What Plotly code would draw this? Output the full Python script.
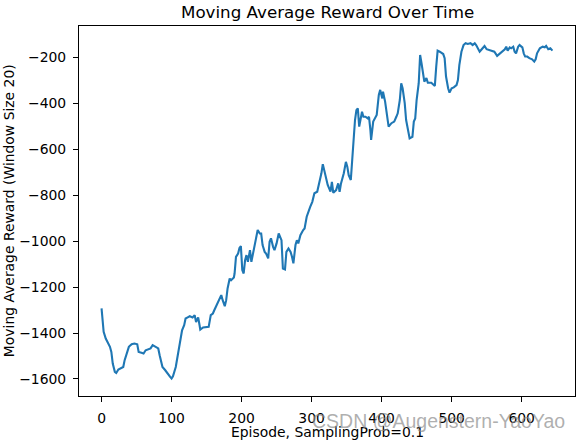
import plotly.graph_objects as go

episodes = [0, 2, 3, 6, 9, 12, 14, 16, 19, 21, 24, 27, 31, 33, 36, 39, 43, 47, 51, 53,
            57, 60, 63, 66, 70, 73, 77, 81, 83, 87, 91, 94, 98, 100, 102, 106, 109, 112, 115, 118,
            120, 123, 126, 130, 133, 135, 138, 140, 141, 145, 150, 153, 156, 159, 161, 164, 168, 171, 173, 176,
            178, 180, 183, 185, 189, 190, 192, 195, 197, 199, 201, 203, 205, 207, 209, 212, 214, 216, 219, 221,
            223, 226, 228, 230, 233, 235, 238, 240, 242, 245, 247, 250, 253, 257, 259, 262, 264, 267, 270, 272,
            274, 277, 279, 281, 284, 288, 290, 293, 296, 298, 301, 304, 308, 311, 314, 316, 320, 323, 327, 329,
            331, 335, 338, 340, 342, 346, 349, 351, 353, 356, 358, 359, 362, 364, 366, 368, 370, 372, 374, 377,
            380, 382, 384, 385, 388, 391, 393, 396, 398, 401, 402, 405, 407, 410, 414, 418, 421, 423, 426, 428,
            430, 433, 435, 438, 440, 444, 446, 448, 450, 453, 455, 457, 459, 461, 464, 466, 471, 476, 478, 480,
            483, 488, 490, 492, 495, 497, 500, 503, 507, 509, 511, 514, 517, 520, 523, 527, 530, 533, 535, 538,
            540, 543, 547, 550, 554, 558, 561, 565, 569, 572, 576, 578, 580, 583, 585, 588, 590, 592, 595, 597,
            601, 603, 605, 608, 611, 615, 618, 620, 622, 626, 630, 633, 635, 638, 641, 644]

rewards = [-1293, -1352, -1395, -1424, -1439, -1460, -1482, -1533, -1569, -1574, -1559, -1555, -1548, -1518, -1489, -1460, -1449, -1446, -1449, -1482,
           -1486, -1489, -1475, -1472, -1467, -1453, -1460, -1467, -1497, -1548, -1562, -1576, -1591, -1598, -1588, -1548, -1497, -1446, -1388, -1366,
           -1337, -1332, -1327, -1332, -1322, -1352, -1332, -1366, -1385, -1376, -1376, -1373, -1322, -1315, -1301, -1279, -1250, -1235, -1257, -1283,
           -1257, -1206, -1163, -1170, -1158, -1141, -1069, -1054, -1030, -1022, -1126, -1141, -1083, -1061, -1090, -1039, -1090, -1061, -1010, -974,
           -952, -967, -967, -1017, -1047, -1054, -1075, -1003, -988, -1025, -1039, -1010, -967, -996, -1119, -1123, -1047, -1032, -1047, -1068,
           -1097, -1017, -996, -1010, -974, -952, -945, -894, -865, -851, -829, -792, -785, -749, -705, -665, -713, -756, -785, -742,
           -790, -778, -749, -785, -749, -705, -655, -676, -713, -734, -647, -596, -473, -430, -422, -502, -473, -437, -459, -459,
           -466, -459, -517, -560, -480, -466, -451, -364, -342, -379, -350, -393, -437, -502, -487, -480, -459, -444, -386, -313,
           -335, -400, -473, -531, -553, -546, -480, -466, -386, -313, -190, -226, -263, -306, -291, -311, -311, -325, -241, -171,
           -176, -186, -204, -284, -335, -354, -335, -331, -321, -299, -234, -176, -147, -139, -142, -139, -147, -139, -147, -165,
           -176, -165, -151, -165, -168, -171, -176, -194, -183, -176, -165, -154, -171, -157, -161, -154, -176, -183, -154, -147,
           -157, -183, -197, -197, -204, -209, -219, -209, -183, -161, -154, -157, -151, -165, -161, -171]

x_ticks = [0, 100, 200, 300, 400, 500, 600]
y_ticks = [-1600, -1400, -1200, -1000, -800, -600, -400, -200]

title_text = "Moving Average Reward Over Time"
x_label = "Episode, SamplingProb=0.1"
y_label = "Moving Average Reward (Window Size 20)"
watermark = "CSDN @Augenstern-YaoYao"

W, H = 581, 442
L, R, T, B = 79.3, 575.0, 26.0, 395.7

fig = go.Figure()
fig.add_trace(go.Scatter(x=episodes, y=rewards, mode="lines",
                         line=dict(color="#1f77b4", width=2.1), hoverinfo="skip"))

font_family = "DejaVu Sans"
axis_common = dict(showgrid=False, zeroline=False, showline=True, linecolor="black",
                   linewidth=1.1, mirror=True, ticks="outside", ticklen=5, tickwidth=1.1,
                   tickcolor="black", tickfont=dict(family=font_family, size=13.9, color="black"))

fig.update_layout(
    width=W, height=H,
    margin=dict(l=L, r=W - R, t=T, b=H - B, pad=0),
    paper_bgcolor="white", plot_bgcolor="white",
    showlegend=False,
    xaxis=dict(range=[-32.2, 676.2], tickvals=x_ticks, ticklabelstandoff=4, **axis_common),
    yaxis=dict(range=[-1674, -64], tickvals=y_ticks, ticklabelstandoff=4, **axis_common),
    font=dict(family=font_family, color="black"),
)

cx = 0.5
fig.add_annotation(text=title_text, xref="paper", yref="paper", x=cx,
                   y=1 + (T - 12) / (B - T), xanchor="center", yanchor="middle",
                   showarrow=False, font=dict(family=font_family, size=16.7, color="black"))
fig.add_annotation(text=x_label, xref="paper", yref="paper", x=cx,
                   y=-(432 - B) / (B - T), xanchor="center", yanchor="middle",
                   showarrow=False, font=dict(family=font_family, size=13.9, color="black"))
fig.add_annotation(text=y_label, xref="paper", yref="paper", x=-(L - 9.5) / (R - L),
                   y=0.5, xanchor="center", yanchor="middle", textangle=-90,
                   showarrow=False, font=dict(family=font_family, size=13.9, color="black"))
fig.add_annotation(text=watermark, xref="paper", yref="paper", x=(567 - L) / (R - L),
                   y=-(421 - B) / (B - T), xanchor="right", yanchor="middle",
                   showarrow=False, font=dict(family="Liberation Sans", size=19.5, color="rgba(140,140,140,0.7)"))

fig.write_html("out.html", config={"displayModeBar": False},
               post_script="document.body.style.margin='0px';document.body.style.overflow='hidden';")
